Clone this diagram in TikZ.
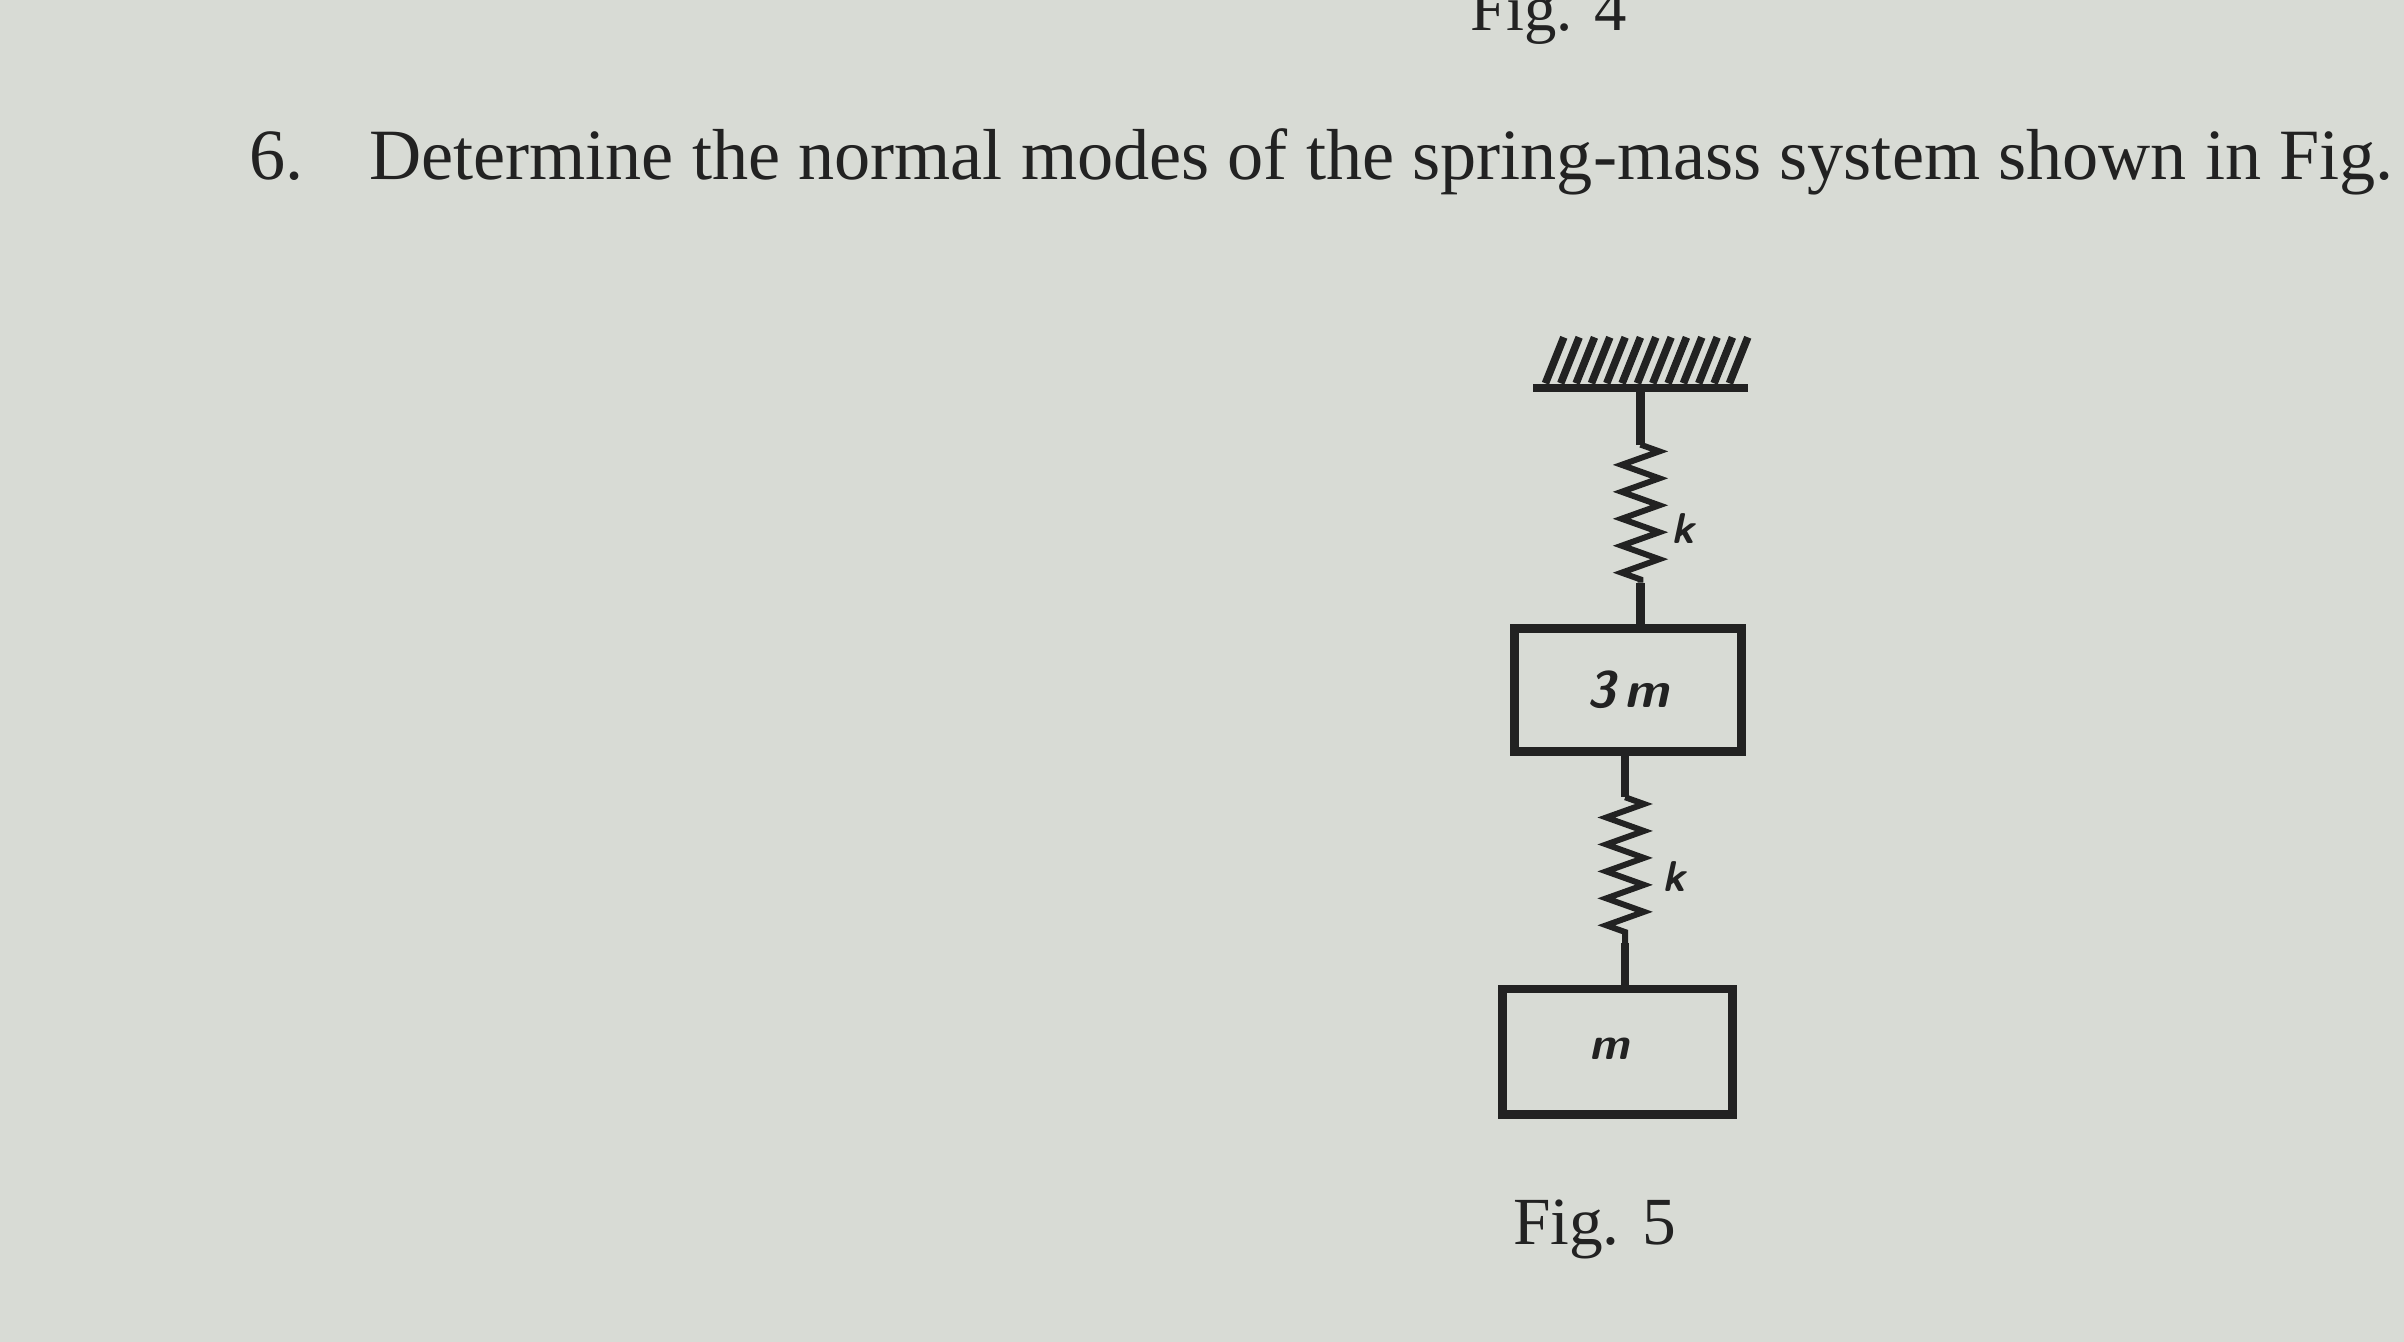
\documentclass[tikz,border=0pt]{standalone}
\usepackage{fontspec}
\setmainfont{Liberation Serif}
\usetikzlibrary{decorations.pathmorphing}
\definecolor{paper}{HTML}{D8DBD5}
\definecolor{ink}{HTML}{222222}
\tikzset{
  lbl/.style={text=ink, inner sep=0pt},
  box/.style={draw=ink, line width=1.6pt, inner sep=0pt},
  spr/.style={draw=ink, line width=1.1pt, decorate, decoration={zigzag, segment length=5pt, amplitude=3.5pt}},
  wire/.style={draw=ink, line width=1.6pt}
}
\begin{document}
\begin{tikzpicture}[x=0.01cm,y=-0.01cm]
\fill[paper] (0,0) rectangle (1568,875);
\useasboundingbox (0,0) rectangle (1568,875);
\node[lbl, anchor=base, font=\fontsize{12}{13}\selectfont] (fig4) at (1010,20) {Fig. 4};
\node[lbl, anchor=base west, font=\fontsize{13.4}{15}\selectfont] (num) at (162,117) {6.};
\node[lbl, anchor=base west, font=\fontsize{13.4}{15}\selectfont] (q) at (240,117) {Determine the normal modes of the spring-mass system shown in Fig.};
% ceiling
\coordinate (c1) at (1000,253);
\coordinate (c2) at (1140,253);
\draw[wire] (c1) -- (c2);
\foreach \x in {1008,1018,...,1128} \draw[ink, line width=1.4pt] (\x,250) -- (\x+12,220);
\coordinate (s1a) at (1070,253);
\coordinate (s1b) at (1070,290);
\coordinate (s1c) at (1070,380);
\node[box, minimum width=1.48cm, minimum height=0.8cm] (m1) at (1062,450) {};
\node[lbl, font=\sffamily\bfseries\itshape\fontsize{9.5}{10}\selectfont] at (m1) {3\,m};
\draw[wire] (s1a) -- (s1b);
\draw[spr] (s1b) -- (s1c);
\draw[wire] (s1c) -- (1070,410);
\node[lbl, font=\sffamily\bfseries\itshape\fontsize{8}{8}\selectfont] (k1) at (1098,345) {k};
\node[box, minimum width=1.5cm, minimum height=0.82cm] (m2) at (1055,686) {};
\node[lbl, font=\sffamily\bfseries\itshape\fontsize{8.5}{9}\selectfont] at (1050,684) {m};
\coordinate (s2a) at (1060,490);
\coordinate (s2b) at (1060,520);
\coordinate (s2c) at (1060,615);
\draw[wire] (s2a) -- (s2b);
\draw[spr] (s2b) -- (s2c);
\draw[wire] (s2c) -- (1060,645);
\node[lbl, font=\sffamily\bfseries\itshape\fontsize{8}{8}\selectfont] (k2) at (1092,572) {k};
\node[lbl, font=\fontsize{12.5}{14}\selectfont] (fig5) at (1040,802) {Fig. 5};
\end{tikzpicture}
\end{document}
